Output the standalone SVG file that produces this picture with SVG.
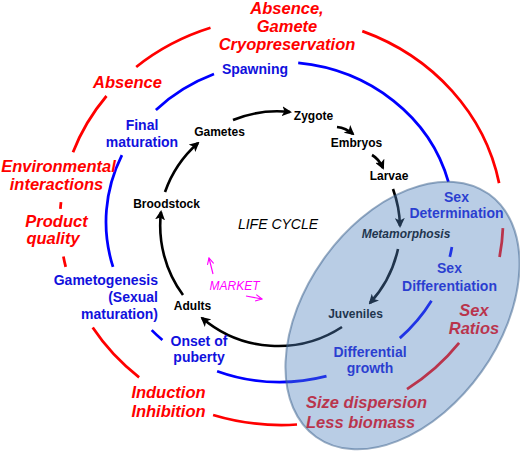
<svg xmlns="http://www.w3.org/2000/svg" width="520" height="451" viewBox="0 0 520 451">
<style>
.red{fill:none;stroke:#ff0000;stroke-width:2.75}
.blue{fill:none;stroke:#0000ff;stroke-width:2.75}
.blk{fill:none;stroke:#000;stroke-width:2.6}
.mag{fill:none;stroke:#ff00ff;stroke-width:1.1}
text{font-family:"Liberation Sans",Arial,sans-serif}
.rt{fill:#ff0000;font-size:16.5px;font-weight:bold;font-style:italic;text-anchor:middle}
.bt{fill:#1111dd;font-size:14px;font-weight:bold;text-anchor:middle}
.kt{fill:#000;font-size:12px;font-weight:bold;text-anchor:middle}
</style>
<defs>
<marker id="ah" viewBox="0 0 10 10" refX="8" refY="5" markerWidth="10" markerHeight="10" markerUnits="userSpaceOnUse" orient="auto">
<path d="M0,0 L10,5 L0,10 L2.5,5 z" fill="#000"/>
</marker>
<marker id="mh" viewBox="0 0 10 10" refX="9" refY="5" markerWidth="8" markerHeight="8" markerUnits="userSpaceOnUse" orient="auto">
<path d="M1,1 L9,5 L1,9" fill="none" stroke="#ff00ff" stroke-width="1.4"/>
</marker>
</defs>
<g id="rings">
<path class="red" d="M136.2,67.0 A221.5,204 0 0,1 210.5,27.8"/>
<path class="red" d="M73.0,152.2 A221.5,204 0 0,1 106.5,96.0"/>
<path class="red" d="M60.4,208.9 A221.5,204 0 0,1 61.0,202.2"/>
<path class="red" d="M65.7,266.9 A221.5,204 0 0,1 63.4,256.4"/>
<path class="red" d="M139.1,377.3 A221.5,204 0 0,1 92.7,327.6"/>
<path class="red" d="M297.0,424.5 A221.5,204 0 0,1 213.1,415.0"/>
<path class="red" d="M459.1,342.9 A221.5,204 0 0,1 407.0,389.1"/>
<path class="red" d="M502.9,228.1 A221.5,204 0 0,1 499.5,257.1"/>
<path class="red" d="M362.3,31.1 A221.5,204 0 0,1 499.1,183.1"/>
<path class="blue" d="M155.9,109.9 A174,160 0 0,1 214.0,74.0"/>
<path class="blue" d="M298.2,62.9 A174,160 0 0,1 448.4,181.9"/>
<path class="blue" d="M451.9,247.0 A174,160 0 0,1 449.8,256.9"/>
<path class="blue" d="M431.5,300.8 A174,160 0 0,1 399.8,338.1"/>
<path class="blue" d="M326.5,376.2 A174,160 0 0,1 217.1,371.2"/>
<path class="blue" d="M162.4,340.0 A174,160 0 0,1 151.7,330.1"/>
<path class="blue" d="M113.0,266.9 A174,160 0 0,1 121.9,155.1"/>
</g>
<g id="connectors">
<path class="blk" marker-end="url(#ah)" d="M233,120 A117,117 0 0,1 290,112"/>
<path class="blk" marker-end="url(#ah)" d="M337,127 Q346,128 353,134"/>
<path class="blk" marker-end="url(#ah)" d="M372,155 Q379,159 383,168"/>
<path class="blk" marker-end="url(#ah)" d="M393,189 A117,117 0 0,1 400,226"/>
<path class="blk" marker-end="url(#ah)" d="M398,249 A117,117 0 0,1 370,303"/>
<path class="blk" marker-end="url(#ah)" d="M342,327 A117,117 0 0,1 202,318"/>
<path class="blk" marker-end="url(#ah)" d="M183,295 A117,117 0 0,1 161,212"/>
<path class="blk" marker-end="url(#ah)" d="M165,192 A117,117 0 0,1 198,143"/>
<path class="mag" marker-end="url(#mh)" d="M213,274 L209,258"/>
<path class="mag" marker-end="url(#mh)" d="M246,296 L262,299"/>
</g>
<g id="n-gametes"><text class="kt" x="219.5" y="136">Gametes</text></g>
<g id="n-zygote"><text class="kt" x="313.5" y="120">Zygote</text></g>
<g id="n-embryos"><text class="kt" x="356.5" y="147">Embryos</text></g>
<g id="n-larvae"><text class="kt" x="389" y="180">Larvae</text></g>
<g id="n-metamorphosis"><text x="406" y="238" style="fill:#000;font-size:12px;font-weight:bold;font-style:italic;text-anchor:middle">Metamorphosis</text></g>
<g id="n-juveniles"><text class="kt" x="355.5" y="318">Juveniles</text></g>
<g id="n-adults"><text class="kt" x="192.5" y="310">Adults</text></g>
<g id="n-broodstock"><text class="kt" x="166.5" y="208">Broodstock</text></g>
<g id="n-lifecycle"><text x="278" y="229" style="fill:#000;font-size:14px;font-style:italic;text-anchor:middle">LIFE CYCLE</text></g>
<g id="n-market"><text x="234.5" y="290" style="fill:#ff00ff;font-size:12px;font-style:italic;text-anchor:middle">MARKET</text></g>
<g id="n-spawning"><text class="bt" x="255" y="74">Spawning</text></g>
<g id="n-final"><text class="bt" x="142" y="130">Final</text><text class="bt" x="142" y="147">maturation</text></g>
<g id="n-gametogenesis"><text class="bt" x="158" y="285" style="text-anchor:end">Gametogenesis</text><text class="bt" x="158" y="302" style="text-anchor:end">(Sexual</text><text class="bt" x="158" y="319" style="text-anchor:end">maturation)</text></g>
<g id="n-puberty"><text class="bt" x="199" y="346">Onset of</text><text class="bt" x="199" y="362">puberty</text></g>
<g id="n-sexdet"><text class="bt" x="456.5" y="202">Sex</text><text class="bt" x="456.5" y="218">Determination</text></g>
<g id="n-sexdiff"><text class="bt" x="449.5" y="273">Sex</text><text class="bt" x="449.5" y="291">Differentiation</text></g>
<g id="n-growth"><text class="bt" x="370" y="357">Differential</text><text class="bt" x="370" y="373">growth</text></g>
<g id="n-cryo"><text class="rt" x="287" y="14">Absence,</text><text class="rt" x="287" y="32">Gamete</text><text class="rt" x="287" y="50">Cryopreservation</text></g>
<g id="n-absence"><text class="rt" x="127.5" y="88">Absence</text></g>
<g id="n-env"><text class="rt" x="58.5" y="172">Environmental</text><text class="rt" x="56.5" y="190">interactions</text></g>
<g id="n-quality"><text class="rt" x="56.5" y="227">Product</text><text class="rt" x="53" y="244">quality</text></g>
<g id="n-induction"><text class="rt" x="168.5" y="398">Induction</text><text class="rt" x="168.5" y="417">Inhibition</text></g>
<g id="n-ratios"><text class="rt" x="474" y="316">Sex</text><text class="rt" x="474" y="334">Ratios</text></g>
<g id="n-size"><text class="rt" x="306" y="408" style="text-anchor:start">Size dispersion</text><text class="rt" x="306" y="428" style="text-anchor:start">Less biomass</text></g>
<g id="n-overlay"><ellipse cx="402.5" cy="315.5" rx="149" ry="97" transform="rotate(-54.6 402.5 315.5)" fill="#4f81bd" fill-opacity="0.4" stroke="#385d8a" stroke-opacity="0.5" stroke-width="2"/></g>
</svg>
